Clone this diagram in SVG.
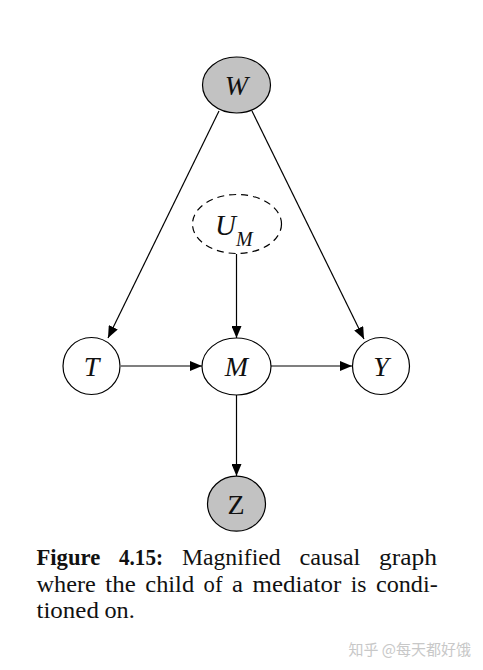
<svg xmlns="http://www.w3.org/2000/svg" width="483" height="670" viewBox="0 0 483 670">
<style>
.n{stroke:#000;stroke-width:1.2;fill:#fff}
.g{fill:#c2c2c2}
.d{stroke-dasharray:7,5}
.lbl{font-family:"Liberation Serif",serif;font-style:italic;font-size:28px;text-anchor:middle;fill:#111}
.e{stroke:#000;stroke-width:1.2;fill:none;marker-end:url(#ah)}
.cap{font-family:"Liberation Serif",serif;font-size:23px;fill:#111}
.b{font-weight:bold}
</style>
<defs>
<marker id="ah" markerWidth="12" markerHeight="10" refX="12" refY="5" orient="auto" markerUnits="userSpaceOnUse">
<path d="M0,0 L12,5 L0,10 z" fill="#000"/>
</marker>
</defs>
<rect width="483" height="670" fill="#fff"/>
<g id="edges">
<line class="e" x1="219" y1="111" x2="108" y2="338"/>
<line class="e" x1="252" y1="111" x2="364" y2="339"/>
<line class="e" x1="236.5" y1="254" x2="236.5" y2="338"/>
<line class="e" x1="121" y1="366" x2="202" y2="366"/>
<line class="e" x1="271" y1="366" x2="352" y2="366"/>
<line class="e" x1="236.5" y1="395" x2="236.5" y2="476"/>
</g>
<g id="W"><ellipse class="n g" cx="236.5" cy="85" rx="34" ry="28"/><text class="lbl" x="236.5" y="95">W</text></g>
<g id="UM"><ellipse class="n d" cx="237" cy="224" rx="44.5" ry="29.5"/><text class="lbl" x="215" y="235" style="text-anchor:start;font-size:29px">U<tspan style="font-size:20px" dy="11">M</tspan></text></g>
<g id="T"><circle class="n" cx="91.5" cy="366" r="28.5"/><text class="lbl" x="91.5" y="376">T</text></g>
<g id="M"><ellipse class="n" cx="236.5" cy="366.5" rx="34.5" ry="28.5"/><text class="lbl" x="236.5" y="376">M</text></g>
<g id="Y"><circle class="n" cx="381" cy="366" r="28.5"/><text class="lbl" x="381" y="376">Y</text></g>
<g id="Z"><ellipse class="n g" cx="236.5" cy="503.7" rx="29" ry="27.5"/><text class="lbl" x="236" y="514" style="font-style:normal">Z</text></g>
<g id="caption">
<text class="cap b" x="36.5" y="565" textLength="63.7" lengthAdjust="spacingAndGlyphs">Figure</text>
<text class="cap b" x="119" y="565" textLength="44" lengthAdjust="spacingAndGlyphs">4.15:</text>
<text class="cap" x="181.9" y="565" textLength="98.7" lengthAdjust="spacingAndGlyphs">Magnified</text>
<text class="cap" x="299.5" y="565" textLength="60.8" lengthAdjust="spacingAndGlyphs">causal</text>
<text class="cap" x="379.1" y="565" textLength="57.9" lengthAdjust="spacingAndGlyphs">graph</text>
<text class="cap" x="36.5" y="591.5" textLength="59.3" lengthAdjust="spacingAndGlyphs">where</text>
<text class="cap" x="105.3" y="591.5" textLength="30.5" lengthAdjust="spacingAndGlyphs">the</text>
<text class="cap" x="145.3" y="591.5" textLength="48.8" lengthAdjust="spacingAndGlyphs">child</text>
<text class="cap" x="203.6" y="591.5" textLength="18.9" lengthAdjust="spacingAndGlyphs">of</text>
<text class="cap" x="232" y="591.5" textLength="11" lengthAdjust="spacingAndGlyphs">a</text>
<text class="cap" x="252.5" y="591.5" textLength="88.7" lengthAdjust="spacingAndGlyphs">mediator</text>
<text class="cap" x="350.7" y="591.5" textLength="15.7" lengthAdjust="spacingAndGlyphs">is</text>
<text class="cap" x="375.9" y="591.5" textLength="61.8" lengthAdjust="spacingAndGlyphs">condi-</text>
<text class="cap" x="36.5" y="618" textLength="62.4" lengthAdjust="spacingAndGlyphs">tioned</text>
<text class="cap" x="104.4" y="618" textLength="30.3" lengthAdjust="spacingAndGlyphs">on.</text>
</g>
<text x="471" y="655" font-family="'Noto Sans CJK SC','Noto Sans',sans-serif" font-size="15" fill="#c8c8c8" text-anchor="end">知乎 @每天都好饿</text>
</svg>
